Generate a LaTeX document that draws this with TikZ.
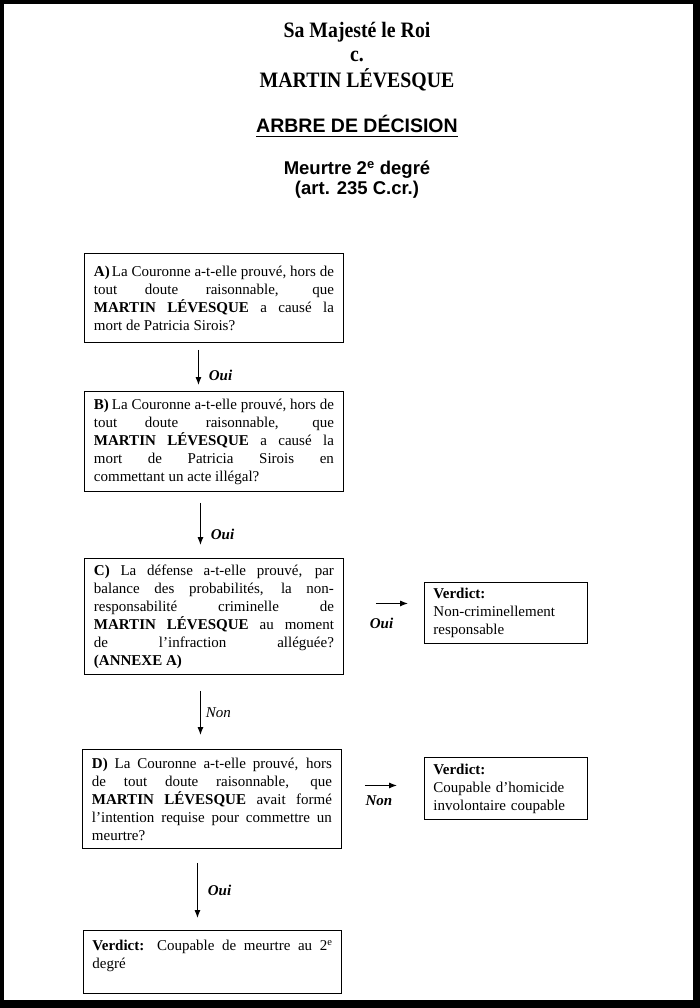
\documentclass[tikz,border=0pt]{standalone}
\usepackage{fontspec}
\setmainfont{Liberation Serif}
\setsansfont{Liberation Sans}
\newfontfamily\titlefont{Liberation Serif}[FakeStretch=0.9]
\usepackage{tikz}
\usetikzlibrary{arrows.meta,positioning}
\newcommand{\accused}{\textbf{MARTIN LÉVESQUE}}
\tikzset{
  qbox/.style    ={draw,line width=0.9pt,anchor=north west,align=justify,
                   font=\fontsize{15}{18}\selectfont,
                   inner xsep=9.5pt,inner ysep=3pt,text width=240pt},
  verdict/.style ={draw,line width=0.9pt,anchor=north west,align=left,
                   font=\fontsize{15}{18}\selectfont,
                   inner xsep=9pt,inner ysep=3pt,text width=145pt},
  ttl/.style     ={anchor=base,inner sep=0pt,
                   font=\titlefont\bfseries\fontsize{22}{24}\selectfont},
  hdr/.style     ={anchor=base,inner sep=0pt,
                   font=\sffamily\bfseries\fontsize{18.5}{22}\selectfont},
  arr/.style     ={-{Latex[length=8pt,width=6pt]},line width=0.9pt},
  lbl/.style     ={inner sep=0pt,font=\fontsize{15}{18}\selectfont\bfseries\itshape},
}
\begin{document}
\begin{tikzpicture}[x=1pt,y=-1pt]

% --- page ------------------------------------------------------------------
\fill[black] (0,0) rectangle (700,1008);
\fill[white] (4,4) rectangle (693,1000);

% --- heading ---------------------------------------------------------------
\node[ttl] (roi)   at (357,38)  {Sa Majesté le Roi};
\node[ttl] (vs)    at (357,62)  {c.};
\node[ttl] (name)  at (357,88)  {MARTIN LÉVESQUE};
\node[hdr,font=\sffamily\bfseries\fontsize{19.5}{22}\selectfont]
           (tree)  at (357,133) {ARBRE DE DÉCISION};
\draw[line width=1.6pt] ([yshift=-3pt]tree.south west) -- ([yshift=-3pt]tree.south east);
\node[hdr] (crime) at (357,175) {Meurtre 2\textsuperscript{e} degré};
\node[hdr] (art)   at (357,195) {(art. 235 C.cr.)};

% --- questions -------------------------------------------------------------
\node[qbox,minimum height=89pt] (qa) at (84,253)
  {\hangindent=18pt\hangafter=1\makebox[18pt][l]{\textbf{A)}}La Couronne a-t-elle
   prouvé, hors de\linebreak tout doute raisonnable, que\linebreak
   \accused{} a causé la\linebreak mort de Patricia Sirois?};
\node[qbox,minimum height=100pt] (qb) at (84,391)
  {\hangindent=18pt\hangafter=1\makebox[18pt][l]{\textbf{B)}}La Couronne a-t-elle
   prouvé, hors de\linebreak tout doute raisonnable, que\linebreak
   \accused{} a causé la\linebreak mort de Patricia Sirois en\linebreak
   commettant un acte illégal?};
\node[qbox,minimum height=116pt] (qc) at (84,558)
  {\hangindent=17pt\hangafter=1\textbf{C)} La défense a-t-elle prouvé, par\linebreak
   balance des probabilités, la non-\linebreak responsabilité criminelle de\linebreak
   \accused{} au moment\linebreak de l’infraction alléguée?\linebreak
   \textbf{(ANNEXE A)}};
\node[qbox,minimum height=99pt] (qd) at (82,749)
  {\textbf{D)} La Couronne a-t-elle prouvé, hors\linebreak de tout doute
   raisonnable, que\linebreak \accused{} avait formé\linebreak l’intention requise
   pour commettre un\linebreak meurtre?};

% --- verdicts --------------------------------------------------------------
\node[verdict,minimum height=61pt] (va) at (424,582)
  {\textbf{Verdict:}\\ Non-criminellement\\ responsable};
\node[verdict,minimum height=62pt] (vb) at (424,757)
  {\textbf{Verdict:}\\ Coupable d’homicide\\ involontaire coupable};
\node[qbox,inner xsep=9pt,inner ysep=9pt,text height=11pt,text depth=34pt]
  (vc) at (83,930)
  {\textbf{Verdict:} Coupable de meurtre au 2\textsuperscript{e}\linebreak degré};

% --- connectors ------------------------------------------------------------
\draw[arr,shorten <=7pt,shorten >=6pt] ([xshift=-15.5pt]qa.south) --
  ([xshift=-15.5pt]qa.south |- qb.north) node[lbl,pos=0.67,right=10pt] {Oui};
\draw[arr,shorten <=11pt,shorten >=13pt] ([xshift=-13.5pt]qb.south) --
  ([xshift=-13.5pt]qb.south |- qc.north) node[lbl,pos=0.64,right=10pt] {Oui};
\draw[arr,shorten <=32pt,shorten >=16pt] ([yshift=13pt]qc.east) --
  ([yshift=13pt]qc.east -| va.west) node[lbl,pos=0.47,below=14.5pt] {Oui};
\draw[arr,shorten <=16pt,shorten >=14pt] ([xshift=-13.5pt]qc.south) --
  ([xshift=-13.5pt]qc.south |- qd.north)
  node[lbl,font=\fontsize{15}{18}\selectfont\itshape,pos=0.51,right=5pt] {Non};
\draw[arr,shorten <=23pt,shorten >=27pt] ([yshift=13.5pt]qd.east) --
  ([yshift=13.5pt]qd.east -| vb.west) node[lbl,pos=0.45,below=9.5pt] {Non};
\draw[arr,shorten <=14pt,shorten >=12pt] ([xshift=-14.5pt]qd.south) --
  ([xshift=-14.5pt]qd.south |- vc.north) node[lbl,pos=0.51,right=10pt] {Oui};

\end{tikzpicture}
\end{document}
